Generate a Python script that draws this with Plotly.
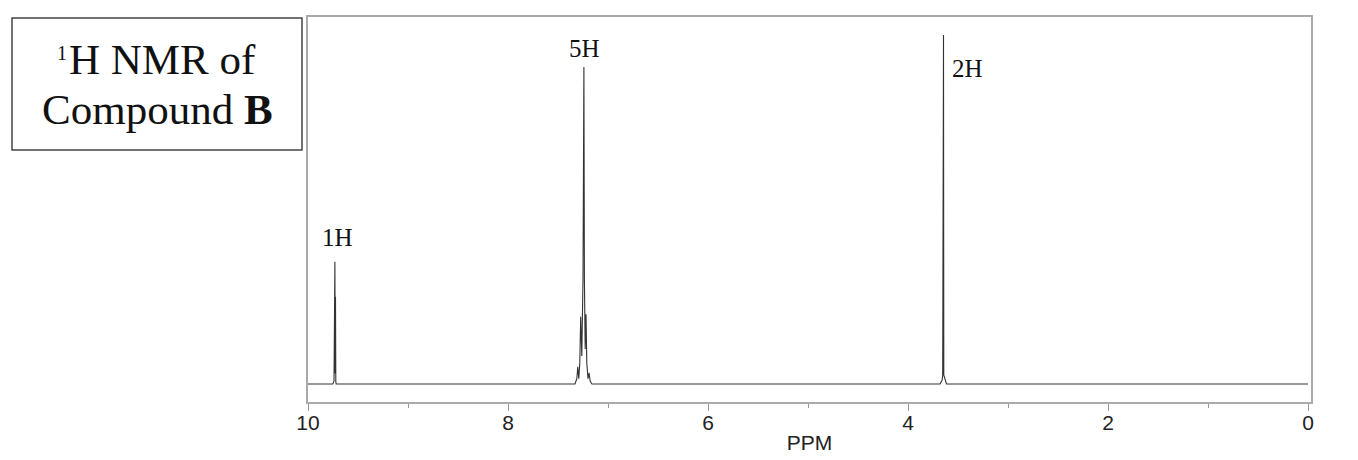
import plotly.graph_objects as go

# Spectrum vertices (ppm, relative intensity)
baseline_ppm = [10.0, 0.0]
ald_ppm = [9.752, 9.740, 9.737, 9.734, 9.731, 9.728, 9.725, 9.722, 9.719, 9.706]
ald_int = [0.0, 0.8, 25.0, 3.0, 35.0, 3.0, 25.0, 0.8, 0.0, 0.0]
aro_ppm = [7.330, 7.312, 7.302, 7.292, 7.282, 7.273, 7.262, 7.250, 7.245, 7.243,
           7.241, 7.236, 7.228, 7.220, 7.212, 7.200, 7.190, 7.178, 7.160]
aro_int = [0.0, 1.5, 4.9, 1.5, 6.0, 19.3, 8.0, 30.0, 84.0, 60.0,
           90.8, 30.0, 10.0, 20.0, 6.0, 1.5, 3.2, 0.8, 0.0]
ch2_ppm = [3.680, 3.660, 3.653, 3.650, 3.648, 3.645, 3.642, 3.630, 3.615]
ch2_int = [0.0, 1.0, 2.5, 81.0, 40.0, 100.0, 2.5, 1.0, 0.0]

peak_labels = ["1H", "5H", "2H"]
peak_label_ppm = [9.705, 7.24, 3.405]
peak_label_int = [42.1, 96.0, 90.3]

tick_vals = [10, 8, 6, 4, 2, 0]
tick_text = ["10", "8", "6", "4", "2", "0"]
minor_vals = [9, 7, 5, 3, 1]

x = [baseline_ppm[0]] + ald_ppm + aro_ppm + ch2_ppm + [baseline_ppm[1]]
y = [0.0] + ald_int + aro_int + ch2_int + [0.0]

fig = go.Figure()
fig.add_trace(go.Scatter(x=x, y=y, mode="lines",
                         line=dict(color="#333333", width=1.1),
                         hoverinfo="skip", showlegend=False))

for t, px, py in zip(peak_labels, peak_label_ppm, peak_label_int):
    fig.add_annotation(x=px, y=py, text=t, showarrow=False,
                       xanchor="center", yanchor="middle",
                       font=dict(family="Liberation Serif", size=25, color="#111"))

# Layout geometry (pixels)
W, H = 1358, 460
L, R, T, B = 308, W - 1311, 17, 460 - 402
pw, ph = W - L - R, H - T - B

def px2paper_x(p):
    return (p - L) / pw

def px2paper_y(p):
    return (H - B - p) / ph

fig.add_shape(type="rect", xref="paper", yref="paper",
              x0=px2paper_x(12), x1=px2paper_x(302),
              y0=px2paper_y(150), y1=px2paper_y(18),
              line=dict(color="#444", width=1.5), fillcolor="white")
fig.add_annotation(xref="paper", yref="paper", x=px2paper_x(162), y=px2paper_y(59),
                   text="H NMR of", showarrow=False,
                   xanchor="center", yanchor="middle",
                   font=dict(family="Liberation Serif", size=43, color="#111"))
fig.add_annotation(xref="paper", yref="paper", x=px2paper_x(62), y=px2paper_y(53),
                   text="1", showarrow=False,
                   xanchor="center", yanchor="middle",
                   font=dict(family="Liberation Serif", size=20, color="#111"))
fig.add_annotation(xref="paper", yref="paper", x=px2paper_x(157), y=px2paper_y(110),
                   text="Compound <b>B</b>", showarrow=False,
                   xanchor="center", yanchor="middle",
                   font=dict(family="Liberation Serif", size=43, color="#111"))

fig.update_layout(
    width=W, height=H,
    margin=dict(l=L, r=R, t=T, b=B, autoexpand=False),
    paper_bgcolor="white", plot_bgcolor="white",
    xaxis=dict(range=[10, -0.03], tickvals=tick_vals, ticktext=tick_text,
               ticks="outside", ticklen=7, tickcolor="#999", tickwidth=1.2,
               ticklabelstandoff=-6,
               showline=True, linecolor="#aaa", linewidth=1.5, mirror=True,
               showgrid=False, zeroline=False,
               minor=dict(tickvals=minor_vals, ticks="outside", ticklen=4,
                          tickcolor="#999", tickwidth=1.2, showgrid=False),
               tickfont=dict(family="Liberation Sans", size=21, color="#222"),
               title=dict(text="PPM", standoff=2,
                          font=dict(family="Liberation Sans", size=21, color="#222"))),
    yaxis=dict(range=[-18 / 3.49, 367 / 3.49], showticklabels=False, ticks="",
               showline=True, linecolor="#aaa", linewidth=1.5, mirror=True,
               showgrid=False, zeroline=False),
)

fig.write_html("out.html", config={"displayModeBar": False},
               post_script="document.body.style.margin='0';")
